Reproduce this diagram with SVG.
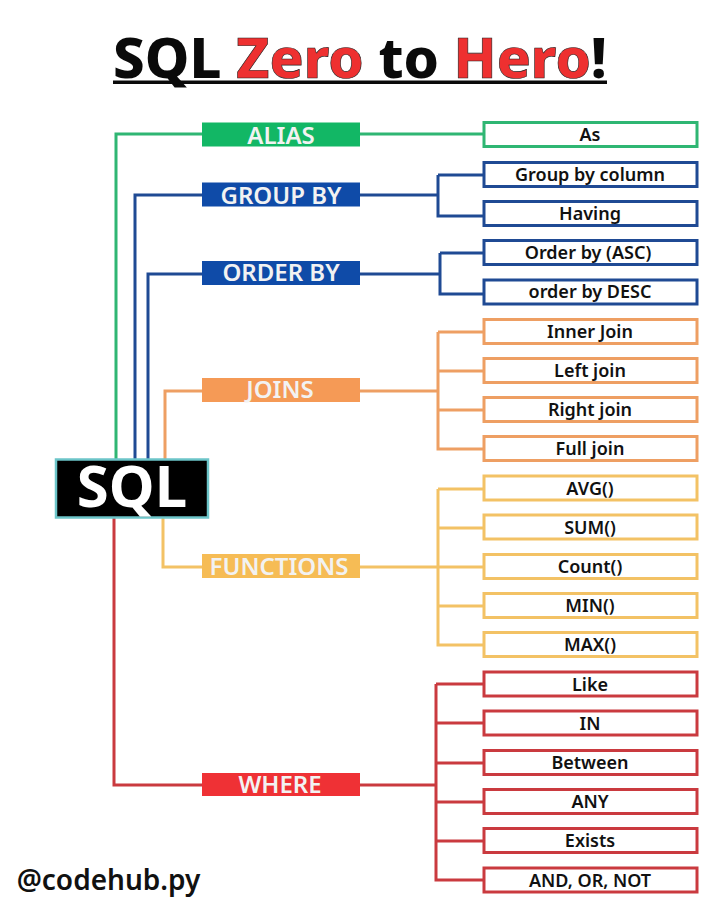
<svg xmlns="http://www.w3.org/2000/svg" width="720" height="900" viewBox="0 0 720 900">
<style>
text{font-family:"Noto Sans","Open Sans",sans-serif;text-anchor:middle;font-weight:700}
.c{fill:none;stroke-width:3}
.leaf{fill:#fff;stroke-width:3}
.lt{font-size:18px;fill:#111;font-weight:600}
.ht{font-size:24px;fill:#f2f2f2;font-weight:600}
.green{stroke:#2fb673}.blue{stroke:#1f4a94}.orange{stroke:#ee9f63}.yellow{stroke:#f3c265}.red{stroke:#ca3a3f}
</style>
<rect width="720" height="900" fill="#fff"/>
<g id="title">
<text x="360" y="78" font-size="56" style="font-weight:800" fill="#0a0a0a" textLength="494" lengthAdjust="spacingAndGlyphs">SQL <tspan fill="#ee3030" stroke="#222" stroke-width=".6">Zero</tspan> to <tspan fill="#ee3030" stroke="#222" stroke-width=".6">Hero</tspan>!</text>
<rect x="113" y="80.500" width="494" height="3.5" fill="#0a0a0a"/>
</g>
<g id="connectors">
<path class="c green" d="M116 459V134H202M360 134H483"/>
<path class="c blue" d="M135 459V195H202M360 195H438M438 175H483M438 175V216H483"/>
<path class="c blue" d="M148 459V274H202M360 274H440M440 253H483M440 253V294H483"/>
<path class="c orange" d="M165 459V391H202M360 391H438M438 332H483M438 332V449H483M438 371H483M438 410H483"/>
<path class="c yellow" d="M163 518V567H202M360 567H438M438 489H483M438 489V645H483M438 528H483M438 567H483M438 606H483"/>
<path class="c red" d="M114 518V785H202M360 785H436M436 684H483M436 684V880H483M436 723H483M436 763H483M436 802H483M436 841H483"/>
</g>
<g id="sql"><rect x="56" y="459.500" width="152" height="58" fill="#000" stroke="#6cc5c9" stroke-width="2.500"/><text x="132" y="507" font-size="58" fill="#fff" style="font-weight:700">SQL</text></g>
<g id="alias"><rect x="202" y="122.500" width="158" height="24" fill="#12b765"/><text class="ht" x="281" y="144">ALIAS</text></g>
<g id="groupby"><rect x="202" y="182.500" width="158" height="24" fill="#0f4ba8"/><text class="ht" x="281" y="204">GROUP BY</text></g>
<g id="orderby"><rect x="202" y="261" width="158" height="24" fill="#0f4ba8"/><text class="ht" x="281" y="281">ORDER BY</text></g>
<g id="joins"><rect x="202" y="378" width="158" height="24" fill="#f59a56"/><text class="ht" x="280" y="398">JOINS</text></g>
<g id="functions"><rect x="202" y="554" width="158" height="24" fill="#f6bc55"/><text class="ht" x="279" y="575">FUNCTIONS</text></g>
<g id="where"><rect x="202" y="773" width="158" height="23" fill="#ef3135"/><text class="ht" x="280" y="793">WHERE</text></g>
<g id="as"><rect class="leaf green" x="484" y="122.500" width="213" height="24"/><text class="lt" x="590" y="141">As</text></g>
<g id="groupcol"><rect class="leaf blue" x="484" y="162.500" width="213" height="24"/><text class="lt" x="590" y="181">Group by column</text></g>
<g id="having"><rect class="leaf blue" x="484" y="201.500" width="213" height="24"/><text class="lt" x="590" y="220">Having</text></g>
<g id="orderasc"><rect class="leaf blue" x="484" y="240.500" width="213" height="24"/><text class="lt" x="588" y="259">Order by (ASC)</text></g>
<g id="orderdesc"><rect class="leaf blue" x="484" y="280" width="213" height="24"/><text class="lt" x="590" y="298">order by DESC</text></g>
<g id="inner"><rect class="leaf orange" x="484" y="319.500" width="213" height="24"/><text class="lt" x="590" y="338">Inner Join</text></g>
<g id="left"><rect class="leaf orange" x="484" y="358.500" width="213" height="24"/><text class="lt" x="590" y="377">Left join</text></g>
<g id="right"><rect class="leaf orange" x="484" y="397.500" width="213" height="24"/><text class="lt" x="590" y="416">Right join</text></g>
<g id="full"><rect class="leaf orange" x="484" y="436.500" width="213" height="24"/><text class="lt" x="590" y="455">Full join</text></g>
<g id="avg"><rect class="leaf yellow" x="484" y="476" width="213" height="24"/><text class="lt" x="590" y="495">AVG()</text></g>
<g id="sum"><rect class="leaf yellow" x="484" y="515" width="213" height="24"/><text class="lt" x="590" y="534">SUM()</text></g>
<g id="count"><rect class="leaf yellow" x="484" y="554.500" width="213" height="24"/><text class="lt" x="590" y="573">Count()</text></g>
<g id="min"><rect class="leaf yellow" x="484" y="593.500" width="213" height="24"/><text class="lt" x="590" y="612">MIN()</text></g>
<g id="max"><rect class="leaf yellow" x="484" y="632.500" width="213" height="24"/><text class="lt" x="590" y="651">MAX()</text></g>
<g id="like"><rect class="leaf red" x="484" y="672" width="213" height="24"/><text class="lt" x="590" y="691">Like</text></g>
<g id="in"><rect class="leaf red" x="484" y="711" width="213" height="24"/><text class="lt" x="590" y="730">IN</text></g>
<g id="between"><rect class="leaf red" x="484" y="750.500" width="213" height="24"/><text class="lt" x="590" y="769">Between</text></g>
<g id="any"><rect class="leaf red" x="484" y="789.500" width="213" height="24"/><text class="lt" x="590" y="808">ANY</text></g>
<g id="exists"><rect class="leaf red" x="484" y="828.500" width="213" height="24"/><text class="lt" x="590" y="847">Exists</text></g>
<g id="andornot"><rect class="leaf red" x="484" y="868" width="213" height="24"/><text class="lt" x="590" y="887">AND, OR, NOT</text></g>
<text id="handle" x="108.500" y="890" font-size="28" fill="#111" style="font-weight:600">@codehub.py</text>
</svg>
